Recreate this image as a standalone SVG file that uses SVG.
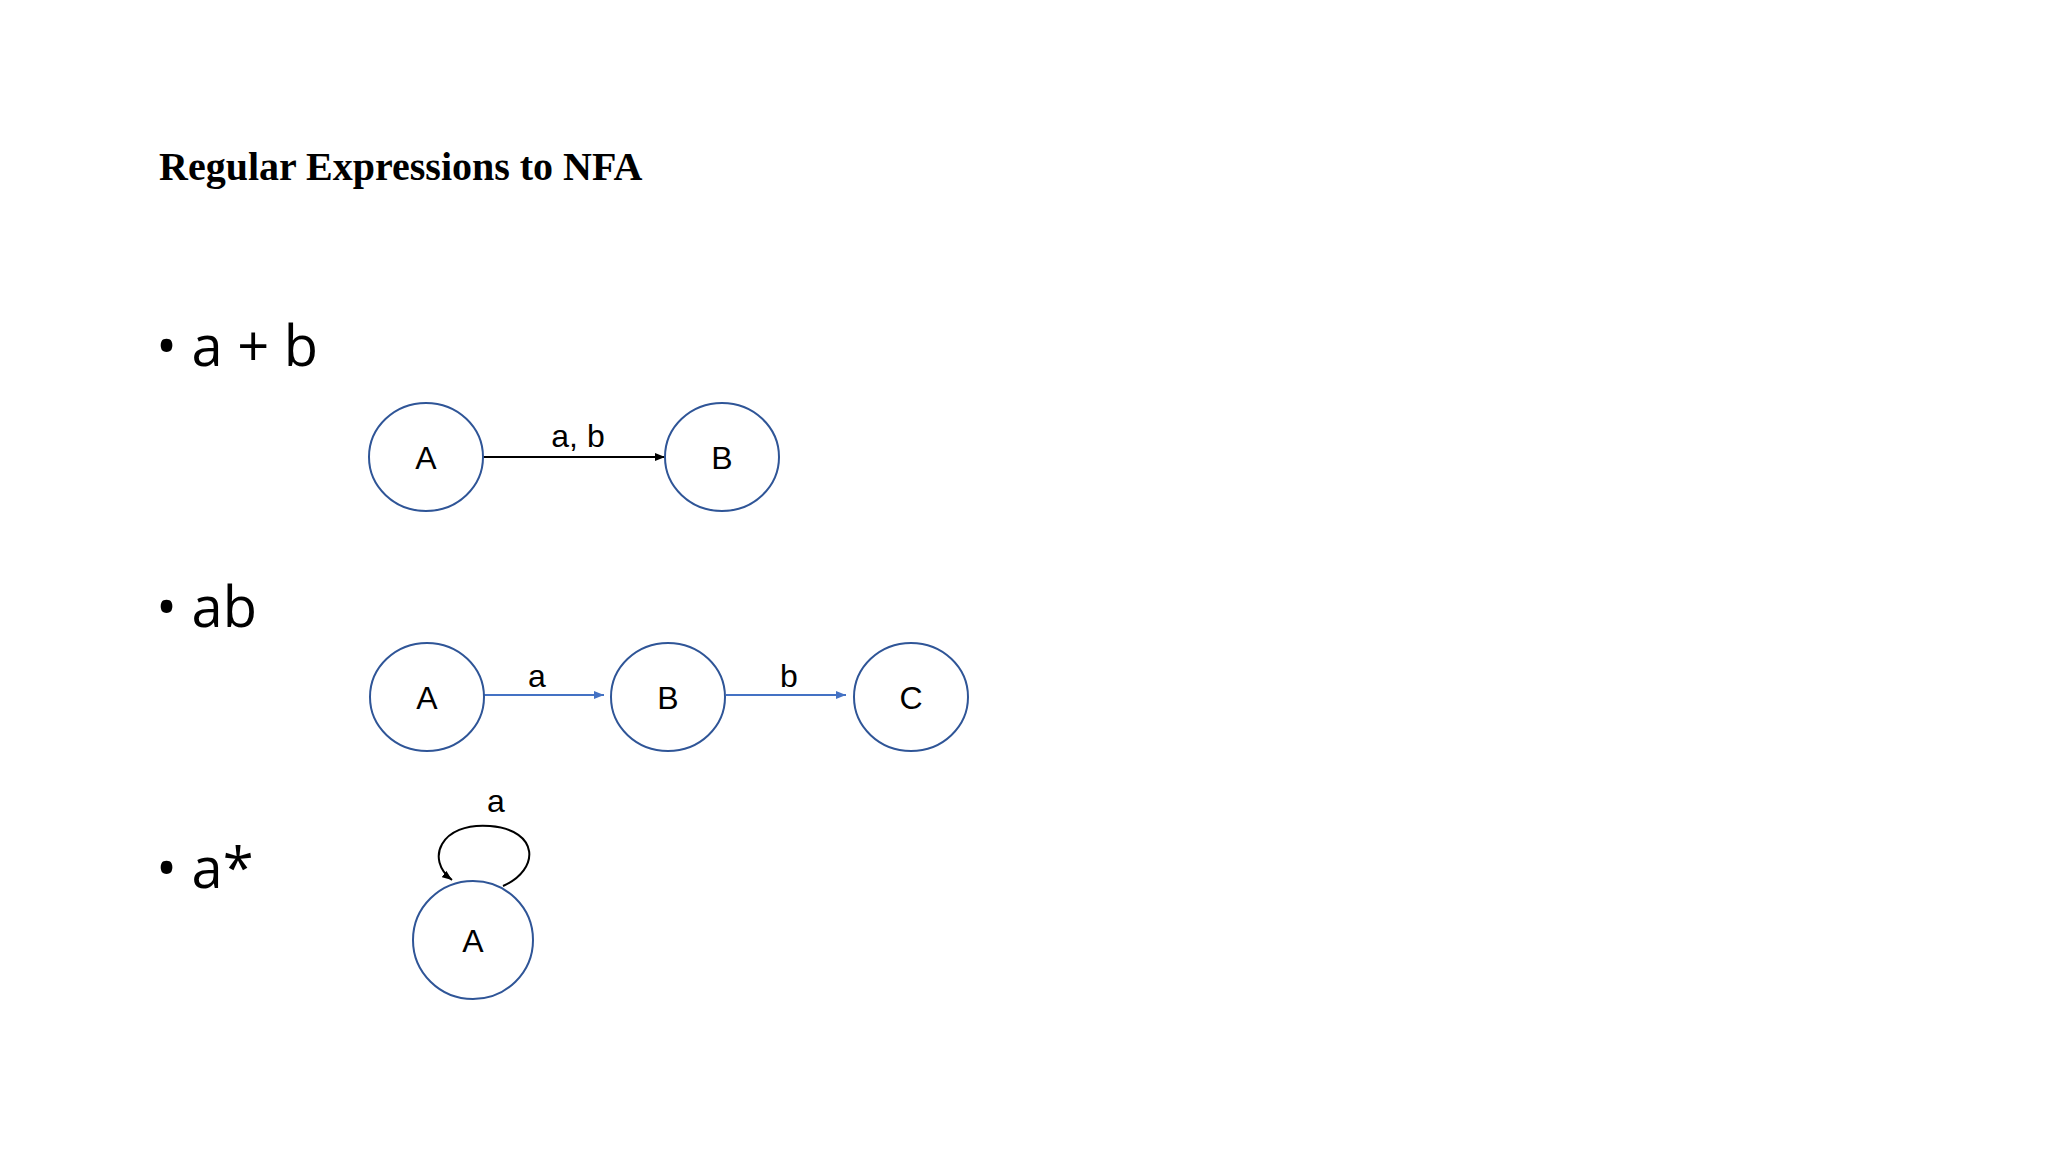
<svg xmlns="http://www.w3.org/2000/svg" width="2048" height="1152" viewBox="0 0 2048 1152">
<style>
.n{fill:#fff;stroke:#2F5597;stroke-width:2}
.t{font-family:"Liberation Sans",sans-serif;font-size:32px;fill:#000;text-anchor:middle}
.b{font-family:"Open Sans","Liberation Sans",sans-serif;font-size:56px;fill:#000}
</style>
<defs>
<marker id="ak" markerWidth="10" markerHeight="8" refX="10" refY="4" orient="auto" markerUnits="userSpaceOnUse"><path d="M0,0L10,4L0,8z" fill="#000"/></marker>
<marker id="ab" markerWidth="10" markerHeight="8" refX="10" refY="4" orient="auto" markerUnits="userSpaceOnUse"><path d="M0,0L10,4L0,8z" fill="#4472C4"/></marker>
</defs>
<rect width="2048" height="1152" fill="#fff"/>
<text x="159" y="180" font-family="Liberation Serif,serif" font-weight="bold" font-size="40">Regular Expressions to NFA</text>
<text class="b" x="156" y="366">• a + b</text>
<text class="b" x="156" y="627">• ab</text>
<text class="b" x="156" y="888">• a*</text>
<g id="connectors" fill="none">
<line x1="479" y1="457" x2="665" y2="457" stroke="#000" stroke-width="2" marker-end="url(#ak)"/>
<line x1="484" y1="695" x2="604" y2="695" stroke="#4472C4" stroke-width="2" marker-end="url(#ab)"/>
<line x1="726" y1="695" x2="846" y2="695" stroke="#4472C4" stroke-width="2" marker-end="url(#ab)"/>
<path d="M503,886 C540,870 540,830 490,826 C440,822 425,860 452,880" stroke="#000" stroke-width="2" marker-end="url(#ak)"/>
<text class="t" x="578" y="447">a, b</text>
<text class="t" x="537" y="687">a</text>
<text class="t" x="789" y="687">b</text>
<text class="t" x="496" y="812">a</text>
</g>
<g id="n1A"><ellipse class="n" cx="426" cy="457" rx="57" ry="54"/><text class="t" x="426" y="469">A</text></g>
<g id="n1B"><ellipse class="n" cx="722" cy="457" rx="57" ry="54"/><text class="t" x="722" y="469">B</text></g>
<g id="n2A"><ellipse class="n" cx="427" cy="697" rx="57" ry="54"/><text class="t" x="427" y="709">A</text></g>
<g id="n2B"><ellipse class="n" cx="668" cy="697" rx="57" ry="54"/><text class="t" x="668" y="709">B</text></g>
<g id="n2C"><ellipse class="n" cx="911" cy="697" rx="57" ry="54"/><text class="t" x="911" y="709">C</text></g>
<g id="n3A"><ellipse class="n" cx="473" cy="940" rx="60" ry="59"/><text class="t" x="473" y="952">A</text></g>
</svg>
